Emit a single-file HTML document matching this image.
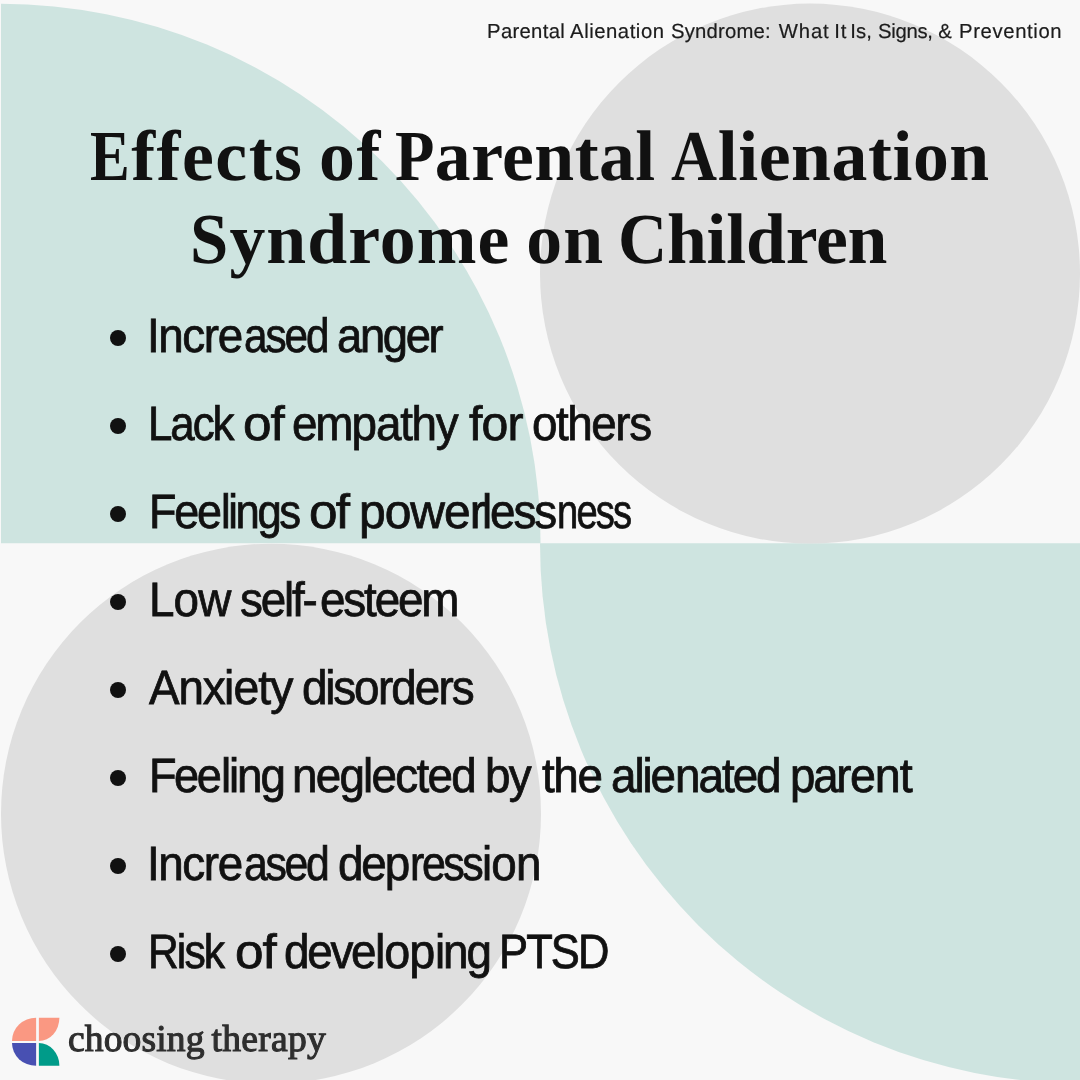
<!DOCTYPE html>
<html lang="en">
<head>
<meta charset="utf-8">
<title>Effects of Parental Alienation Syndrome on Children</title>
<style>
  html, body { margin: 0; padding: 0; }
  body { width: 1080px; height: 1080px; overflow: hidden; background: #f8f8f8; font-family: "Liberation Sans", sans-serif; }
  #stage { position: relative; width: 1080px; height: 1080px; overflow: hidden; }
  #shapes { position: absolute; left: 0; top: 0; }
  #text { position: absolute; left: 0; top: 0; width: 1080px; height: 1080px; will-change: transform; }
  .blk { margin: 0; padding: 0; list-style: none; font-size: inherit; font-weight: inherit; }
  .ln { display: block; position: absolute; left: 0; width: 1080px; height: 0; margin: 0; padding: 0; }
  .w { position: absolute; top: 0; white-space: nowrap; line-height: 1; transform-origin: 0 0; text-rendering: geometricPrecision; }
  .hdr { font-family: "Liberation Sans", sans-serif; font-weight: normal; font-size: 20.3px; color: #1c1c1c; -webkit-text-stroke: 0.2px #1c1c1c; }
  .ttl { font-family: "Liberation Serif", serif; font-weight: bold; font-size: 71.7px; color: #111111; }
  .li { font-family: "Liberation Sans", sans-serif; font-weight: normal; font-size: 48.2px; color: #111111; -webkit-text-stroke: 0.8px #111111; }
  .brand { font-family: "Liberation Serif", serif; font-weight: normal; font-size: 37.6px; color: #2e2e2e; -webkit-text-stroke: 1.1px #2e2e2e; }
  .cap { display: inline-block; transform-origin: 0 0; }
  .dot { position: absolute; width: 16.2px; height: 16.2px; border-radius: 50%; background: #111111; left: 109.5px; }
</style>
</head>
<body>
<div id="stage">
  <svg id="shapes" width="1080" height="1080" viewBox="0 0 1080 1080">
    <path d="M1 543.3 L1 3.8 A539.5 539.5 0 0 1 540.5 543.3 Z" fill="#cee4e0"/>
    <path d="M1080 543.3 L540 543.3 A540 540 0 0 0 1080 1083.3 Z" fill="#cee4e0"/>
    <circle cx="810" cy="273.6" r="270" fill="#dfdfdf"/>
    <circle cx="271" cy="813.7" r="270" fill="#dfdfdf"/>
    <path d="M36.1 1040.9 L12 1040.9 A24.1 23.1 0 0 1 36.1 1017.8 Z" fill="#fa9882"/>
    <path d="M38.9 1017.8 L59.4 1017.8 A20.5 23.1 0 0 1 38.9 1040.9 Z" fill="#fa9882"/>
    <path d="M36.1 1043.1 L36.1 1065.8 A24.1 22.7 0 0 1 12 1043.1 Z" fill="#4850b2"/>
    <path d="M38.9 1065.8 L38.9 1043.1 A20.5 22.7 0 0 1 59.4 1065.8 Z" fill="#009b89"/>
  </svg>
  <div class="dot" style="top:330.1px;"></div>
  <div class="dot" style="top:418.1px;"></div>
  <div class="dot" style="top:506.0px;"></div>
  <div class="dot" style="top:594.0px;"></div>
  <div class="dot" style="top:682.0px;"></div>
  <div class="dot" style="top:769.9px;"></div>
  <div class="dot" style="top:857.9px;"></div>
  <div class="dot" style="top:945.9px;"></div>
  <div id="text">
  <p class="blk">
    <span class="ln hdr" id="hdr" style="top:22.32px;"><span class="w" style="left:487.10px; letter-spacing:0.297px;">Parental</span> <span class="w" style="left:570.10px; letter-spacing:0.533px;">Alienation</span> <span class="w" style="left:670.90px; letter-spacing:0.220px;">Syndrome:</span> <span class="w" style="left:778.70px; letter-spacing:0.900px;">What</span> <span class="w" style="left:834.30px; letter-spacing:0.900px;">It</span> <span class="w" style="left:850.30px; letter-spacing:0.080px;">Is,</span> <span class="w" style="left:878.10px; letter-spacing:-0.300px;">Signs,</span> <span class="w" style="left:938.20px;">&amp;</span> <span class="w" style="left:959.10px; letter-spacing:0.622px;">Prevention</span></span>
  </p>
  <h1 class="blk">
    <span class="ln ttl" id="t1" style="top:120.95px;"><span class="w" style="left:90.00px; letter-spacing:1.515px;"><span class="cap" style="transform:scaleX(0.83); margin-right:-8.13px;">E</span>ffects</span> <span class="w" style="left:319.12px; letter-spacing:1.600px;">of</span> <span class="w" style="left:395.00px; letter-spacing:0.443px;"><span class="cap" style="transform:scaleX(0.9); margin-right:-4.38px;">P</span>arental</span> <span class="w" style="left:671.00px; letter-spacing:0.585px;"><span class="cap" style="transform:scaleX(0.89); margin-right:-5.69px;">A</span>lienation</span></span>
    <span class="ln ttl" id="t2" style="top:203.65px;"><span class="w" style="left:190.00px; letter-spacing:1.085px;"><span class="cap" style="transform:scaleX(0.96); margin-right:-1.59px;">S</span>yndrome</span> <span class="w" style="left:526.13px; letter-spacing:1.400px;">on</span> <span class="w" style="left:618.00px; letter-spacing:-0.229px;"><span class="cap" style="transform:scaleX(0.95); margin-right:-2.59px;">C</span>hildren</span></span>
  </h1>
  <ul class="blk">
    <li class="ln li" id="l1" style="top:311.90px;"><span class="w" style="left:147.00px; letter-spacing:-1.494px; transform:scaleX(0.95);">Incre</span><span class="w" style="left:244.25px; letter-spacing:-2.336px; transform:scaleX(0.8771);">ased</span> <span class="w" style="left:337.00px; letter-spacing:-2.476px; transform:scaleX(0.9414);">anger</span></li>
    <li class="ln li" id="l2" style="top:399.90px;"><span class="w" style="left:148.15px; letter-spacing:-2.262px; transform:scaleX(0.9105);">Lack</span> <span class="w" style="left:242.50px; letter-spacing:-0.900px; transform:scaleX(1.064);">of</span> <span class="w" style="left:292.40px; letter-spacing:-2.212px; transform:scaleX(0.95);">emp</span><span class="w" style="left:376.40px; letter-spacing:-1.404px; transform:scaleX(0.95);">athy</span> <span class="w" style="left:469.30px; letter-spacing:-0.900px; transform:scaleX(1.0001);">for</span> <span class="w" style="left:531.80px; letter-spacing:-1.515px; transform:scaleX(0.95);">others</span></li>
    <li class="ln li" id="l3" style="top:487.90px;"><span class="w" style="left:148.60px; letter-spacing:-2.364px; transform:scaleX(0.9325);">Fee</span><span class="w" style="left:221.40px; letter-spacing:-2.634px; transform:scaleX(0.905);">lings</span> <span class="w" style="left:309.10px; letter-spacing:-1.638px; transform:scaleX(1.064);">of</span> <span class="w" style="left:358.65px; letter-spacing:-1.022px; transform:scaleX(0.9965);">power</span><span class="w" style="left:482.20px; letter-spacing:-2.192px; transform:scaleX(0.95);">less</span><span class="w" style="left:557.30px; letter-spacing:-2.320px; transform:scaleX(0.7915);">ness</span></li>
    <li class="ln li" id="l4" style="top:575.90px;"><span class="w" style="left:148.85px; letter-spacing:-0.900px; transform:scaleX(0.95);">Low</span> <span class="w" style="left:240.20px; letter-spacing:-2.273px; transform:scaleX(0.95);">self-</span><span class="w" style="left:319.60px; letter-spacing:-2.237px; transform:scaleX(0.95);">esteem</span></li>
    <li class="ln li" id="l5" style="top:663.90px;"><span class="w" style="left:148.60px; letter-spacing:-1.157px; transform:scaleX(0.95);">Anx</span><span class="w" style="left:223.50px; letter-spacing:-0.900px; transform:scaleX(0.9615);">iety</span> <span class="w" style="left:301.80px; letter-spacing:-2.246px; transform:scaleX(0.95);">diso</span><span class="w" style="left:377.80px; letter-spacing:-2.021px; transform:scaleX(0.95);">rders</span></li>
    <li class="ln li" id="l6" style="top:751.90px;"><span class="w" style="left:149.00px; letter-spacing:-2.655px; transform:scaleX(0.9368);">Fee</span><span class="w" style="left:220.80px; letter-spacing:-2.245px; transform:scaleX(0.95);">ling</span> <span class="w" style="left:292.00px; letter-spacing:-1.816px; transform:scaleX(0.95);">neg</span><span class="w" style="left:362.60px; letter-spacing:-1.775px; transform:scaleX(0.95);">lected</span> <span class="w" style="left:485.10px; letter-spacing:-1.742px; transform:scaleX(0.95);">by</span> <span class="w" style="left:542.20px; letter-spacing:-1.474px; transform:scaleX(0.95);">the</span> <span class="w" style="left:611.20px; letter-spacing:-2.190px; transform:scaleX(0.95);">alie</span><span class="w" style="left:675.20px; letter-spacing:-2.105px; transform:scaleX(0.95);">nated</span> <span class="w" style="left:790.20px; letter-spacing:-2.270px; transform:scaleX(0.9449);">par</span><span class="w" style="left:850.20px; letter-spacing:-1.109px; transform:scaleX(0.9678);">ent</span></li>
    <li class="ln li" id="l7" style="top:839.90px;"><span class="w" style="left:147.00px; letter-spacing:-1.494px; transform:scaleX(0.95);">Incre</span><span class="w" style="left:243.80px; letter-spacing:-2.609px; transform:scaleX(0.887);">ased</span> <span class="w" style="left:338.40px; letter-spacing:-2.237px; transform:scaleX(0.95);">dep</span><span class="w" style="left:409.65px; letter-spacing:-2.700px; transform:scaleX(0.8901);">ress</span><span class="w" style="left:482.40px; letter-spacing:-0.900px; transform:scaleX(0.95);">ion</span></li>
    <li class="ln li" id="l8" style="top:927.90px;"><span class="w" style="left:148.20px; letter-spacing:-2.162px; transform:scaleX(0.8837);">Risk</span> <span class="w" style="left:234.65px; letter-spacing:-0.900px; transform:scaleX(1.064);">of</span> <span class="w" style="left:283.60px; letter-spacing:-2.386px; transform:scaleX(0.95);">deve</span><span class="w" style="left:374.95px; letter-spacing:-1.152px; transform:scaleX(0.9695);">lop</span><span class="w" style="left:434.60px; letter-spacing:-2.212px; transform:scaleX(0.95);">ing</span> <span class="w" style="left:498.60px; letter-spacing:-2.114px; transform:scaleX(0.9034);">PTSD</span></li>
  </ul>
  <p class="blk">
    <span class="ln brand" id="brand" style="top:1020.81px;"><span class="w" style="left:67.90px; letter-spacing:0.137px;">choosing</span> <span class="w" style="left:211.60px; letter-spacing:0.266px;">therapy</span></span>
  </p>
  </div>
</div>
</body>
</html>
